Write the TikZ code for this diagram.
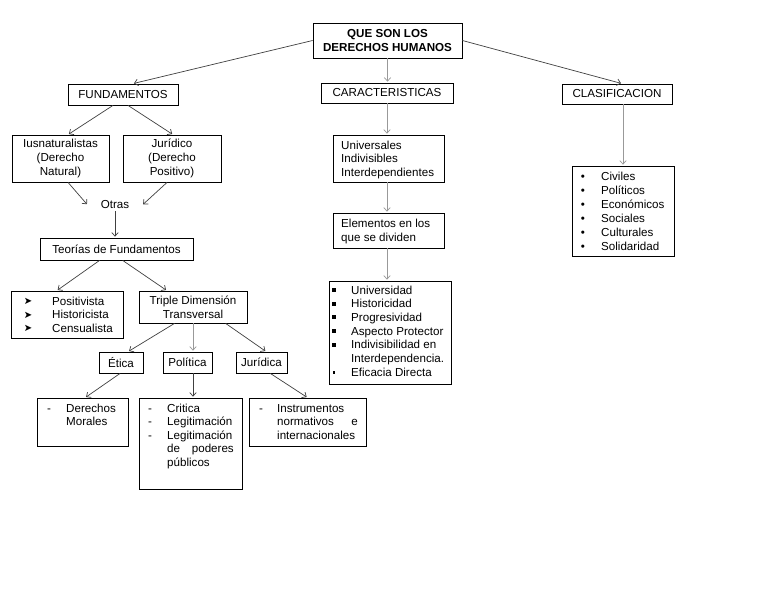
\documentclass[tikz,border=0pt]{standalone}
\usepackage{fontspec}
\setmainfont{Liberation Sans}
\newfontfamily\djfont{DejaVu Sans}
\usetikzlibrary{arrows.meta,calc}
\newcommand\dfont{\fontsize{11.6}{13.6}\selectfont}
\begin{document}
\begin{tikzpicture}[x=1pt,y=-1pt,
  bx/.style={draw=black,line width=0.8pt,inner sep=0pt,align=center,font=\dfont},
  lt/.style={font=\dfont,inner sep=0pt,anchor=base west},
  mk/.style={font=\dfont,inner sep=0pt,anchor=base},
  sq/.style={fill=black,inner sep=0pt,minimum width=3.5pt,minimum height=4pt},
  ar/.style={draw=black!75,line width=0.7pt,shorten >=1pt,-{Straight Barb[length=3.5pt,width=6.5pt,line width=0.7pt]}},
  arl/.style={ar,draw=black!40}]
\fill[white] (0,0) rectangle (768,594);
\useasboundingbox (0,0) rectangle (768,594);

% boxes
\node[bx,minimum width=149pt,minimum height=35pt,font=\dfont\bfseries] (title) at (387.5,40.5) {QUE SON LOS\\DERECHOS HUMANOS};
\node[bx,minimum width=110pt,minimum height=21pt] (fund) at (123,94.5) {FUNDAMENTOS};
\node[bx,minimum width=132pt,minimum height=20pt] (car) at (387,93) {CARACTERISTICAS};
\node[bx,minimum width=110pt,minimum height=20pt] (clas) at (617,94) {CLASIFICACION};
\node[bx,minimum width=97pt,minimum height=47pt] (ius) at (60.5,158.5) {Iusnaturalistas\\(Derecho\\Natural)};
\node[bx,minimum width=98pt,minimum height=47pt] (jur) at (172,158.5) {Jurídico\\(Derecho\\Positivo)};
\node[bx,minimum width=111pt,minimum height=47pt] (univ) at (388.5,158.5) {};
\node[font=\dfont,inner xsep=13pt,inner ysep=2pt] (otras) at (115,205) {Otras};
\node[bx,minimum width=153pt,minimum height=22pt] (teo) at (116.5,249) {Teorías de Fundamentos};
\node[bx,minimum width=112pt,minimum height=47pt] (pos) at (67,314.5) {};
\node[bx,minimum width=108pt,minimum height=32pt] (tri) at (193,307) {Triple Dimensión\\Transversal};
\node[bx,minimum width=44pt,minimum height=21pt] (etica) at (121,362.5) {Ética};
\node[bx,minimum width=49pt,minimum height=21pt] (pol) at (187.5,362.5) {Política};
\node[bx,minimum width=51pt,minimum height=21pt] (jurd) at (261.5,362.5) {Jurídica};
\node[bx,minimum width=91pt,minimum height=48pt] (mor) at (82.5,422) {};
\node[bx,minimum width=103pt,minimum height=91pt] (crit) at (190.5,443.5) {};
\node[bx,minimum width=117pt,minimum height=48pt] (inst) at (307.5,422) {};
\node[bx,minimum width=111pt,minimum height=35pt] (elem) at (388.5,230.5) {};
\node[bx,minimum width=122pt,minimum height=103pt] (ulist) at (390,332.5) {};
\node[bx,minimum width=102pt,minimum height=90pt] (clist) at (623,211) {};

% box texts
\foreach \t [count=\i] in {Universales,Indivisibles,Interdependientes}
  \node[lt] (ut\i) at (341,{149+13.7*(\i-1)}) {\t};
\node[lt] (et1) at (341,227) {Elementos en los};
\node[lt] (et2) at (341,241) {que se dividen};

\foreach \t [count=\i] in {Positivista,Historicista,Censualista}{
  \node[inner sep=0pt,font=\djfont\fontsize{10}{10}\selectfont] (pm\i) at (28,{301.5+13.5*(\i-1)}) {➤};
  \node[lt] (pt\i) at (52,{305+13.5*(\i-1)}) {\t};}

\foreach \t [count=\i] in {Universidad,Historicidad,Progresividad,Aspecto Protector,Indivisibilidad en,Interdependencia.,Eficacia Directa}
  \node[lt] (ul\i) at (351,{294+13.67*(\i-1)}) {\t};
\foreach \i in {1,2,3,4,5}
  \node[sq] (um\i) at (334,{290+13.67*(\i-1)}) {};
\node[sq,minimum width=2.5pt,minimum height=3pt] (um7) at (334,{290.5+13.67*6}) {};

\foreach \t [count=\i] in {Civiles,Políticos,Económicos,Sociales,Culturales,Solidaridad}{
  \node[mk] (cm\i) at (583,{180+14.1*(\i-1)}) {•};
  \node[lt] (cl\i) at (601,{180+14.1*(\i-1)}) {\t};}

\node[mk] (md1) at (49,412) {-};
\node[lt] (mt1) at (66,412) {Derechos};
\node[lt] (mt2) at (66,425.5) {Morales};

\foreach \t [count=\i] in {Critica,Legitimación,Legitimación}{
  \node[mk] (cd\i) at (150,{412+13.5*(\i-1)}) {-};
  \node[lt] (ct\i) at (167,{412+13.5*(\i-1)}) {\t};}
\node[lt] (ct4) at (167,452.5) {de};
\node[lt,anchor=base east] (ct5) at (234,452.5) {poderes};
\node[lt] (ct6) at (167,466) {públicos};

\node[mk] (id1) at (261,412) {-};
\node[lt] (it1) at (277,412) {Instrumentos};
\node[lt] (it2) at (277,425.5) {normativos};
\node[lt,anchor=base east] (it3) at (358,425.5) {e};
\node[lt] (it4) at (277,439) {internacionales};

% connectors
\draw[ar] (title.west) -- ($(fund.north west)!0.59!(fund.north east)$);
\draw[arl] (title.south) -- (title.south |- car.north);
\draw[ar] (title.east) -- ($(clas.north west)!0.545!(clas.north east)$);
\draw[ar] ($(fund.south west)!0.41!(fund.south east)$) -- ($(ius.north west)!0.577!(ius.north east)$);
\draw[ar] ($(fund.south west)!0.545!(fund.south east)$) -- ($(jur.north west)!0.51!(jur.north east)$);
\draw[arl] (car.south) -- (car.south |- univ.north);
\draw[ar] ($(ius.south west)!0.577!(ius.south east)$) -- (otras.west);
\draw[ar] ($(jur.south west)!0.45!(jur.south east)$) -- (otras.east);
\draw[ar] (otras.south) -- (otras.south |- teo.north);
\draw[ar] ($(teo.south west)!0.39!(teo.south east)$) -- ($(pos.north west)!0.41!(pos.north east)$);
\draw[ar] ($(teo.south west)!0.54!(teo.south east)$) -- ($(tri.north west)!0.26!(tri.north east)$);
\draw[ar] ($(tri.south west)!0.33!(tri.south east)$) -- ($(etica.north west)!0.66!(etica.north east)$);
\draw[arl] (tri.south) -- (tri.south |- pol.north);
\draw[ar] ($(tri.south west)!0.8!(tri.south east)$) -- ($(jurd.north west)!0.59!(jurd.north east)$);
\draw[ar] ($(etica.south west)!0.48!(etica.south east)$) -- ($(mor.north west)!0.53!(mor.north east)$);
\draw[ar] (tri.south |- pol.south) -- (tri.south |- crit.north);
\draw[ar] ($(jurd.south west)!0.67!(jurd.south east)$) -- ($(inst.north west)!0.5!(inst.north east)$);
\draw[arl] (univ.south -| car.south) -- (car.south |- elem.north);
\draw[arl] (elem.south -| car.south) -- (car.south |- ulist.north);
\draw[arl] (clas.south -| clist.north) -- (clist.north);
\end{tikzpicture}
\end{document}
